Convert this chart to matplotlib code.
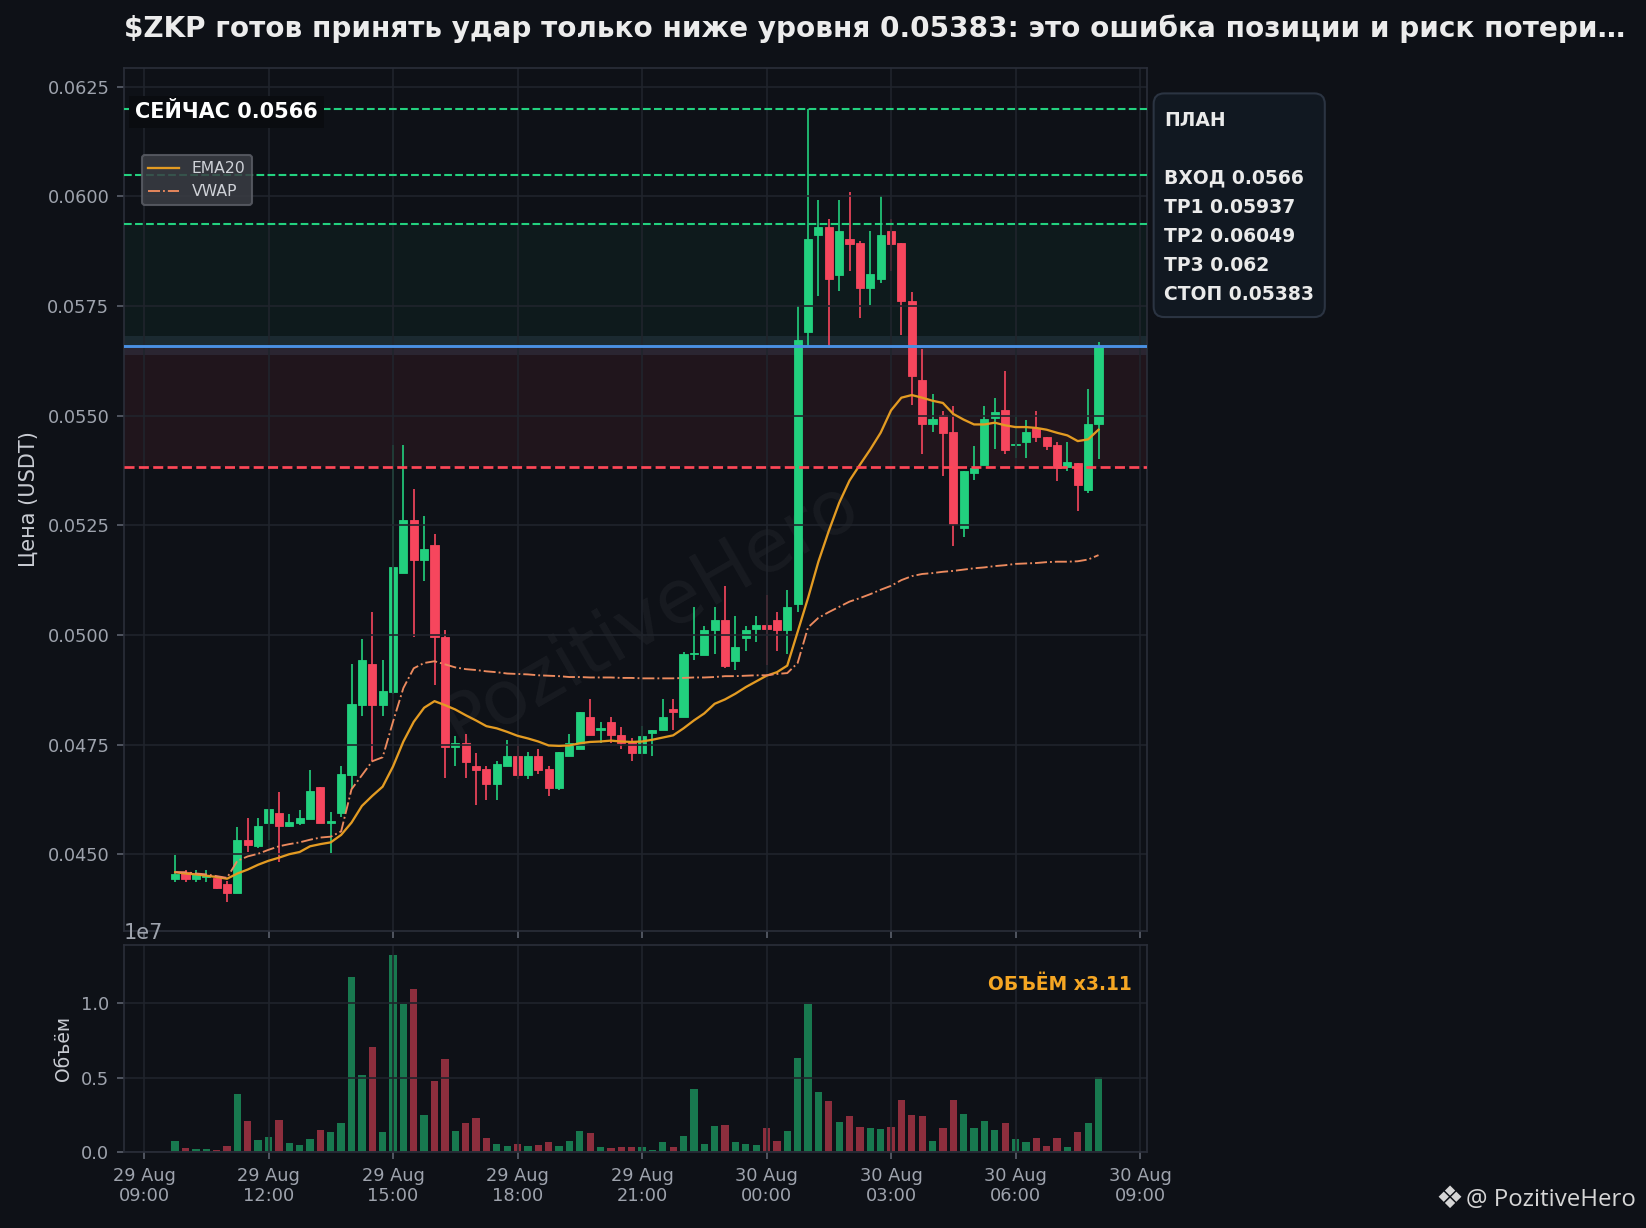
import numpy as np
import pandas as pd
import matplotlib
matplotlib.use("Agg")
import matplotlib.pyplot as plt
import matplotlib.dates as mdates
from matplotlib.patches import FancyBboxPatch
from matplotlib.ticker import FormatStrFormatter, MultipleLocator

# 15m candles, 29 Aug 09:45 -> 30 Aug 08:00
opens = [0.04444, 0.04460, 0.04444, 0.04448, 0.04446, 0.04431, 0.04412, 0.04533, 0.04518, 0.04572,
         0.04593, 0.04564, 0.04572, 0.04581, 0.04654, 0.04572, 0.04593, 0.04680, 0.04840, 0.04933,
         0.04840, 0.04871, 0.05141, 0.05263, 0.05171, 0.05204, 0.04995, 0.04745, 0.04753, 0.04702,
         0.04694, 0.04661, 0.04702, 0.04725, 0.04680, 0.04724, 0.04695, 0.04651, 0.04723, 0.04741,
         0.04812, 0.04784, 0.04802, 0.04771, 0.04759, 0.04730, 0.04776, 0.04783, 0.04830, 0.04812,
         0.04956, 0.04954, 0.05012, 0.05035, 0.04940, 0.04994, 0.05014, 0.05022, 0.05035, 0.05012,
         0.05070, 0.05691, 0.05912, 0.05931, 0.05821, 0.05902, 0.05894, 0.05792, 0.05812, 0.05922,
         0.05893, 0.05761, 0.05582, 0.05482, 0.05501, 0.05463, 0.05243, 0.05370, 0.05387, 0.05495,
         0.05512, 0.05432, 0.05440, 0.05472, 0.05451, 0.05432, 0.05384, 0.05393, 0.05330, 0.05482]
highs = [0.04499, 0.04464, 0.04463, 0.04463, 0.04448, 0.04440, 0.04561, 0.04582, 0.04582, 0.04602,
         0.04642, 0.04591, 0.04601, 0.04692, 0.04654, 0.04597, 0.04702, 0.04933, 0.04990, 0.05052,
         0.04943, 0.05432, 0.05432, 0.05332, 0.05272, 0.05231, 0.05011, 0.04770, 0.04773, 0.04730,
         0.04702, 0.04712, 0.04761, 0.04751, 0.04732, 0.04741, 0.04702, 0.04733, 0.04773, 0.04824,
         0.04853, 0.04802, 0.04812, 0.04789, 0.04764, 0.04792, 0.04783, 0.04853, 0.04853, 0.04962,
         0.05063, 0.05020, 0.05063, 0.05111, 0.05043, 0.05020, 0.05043, 0.05092, 0.05052, 0.05102,
         0.05750, 0.06200, 0.05991, 0.05949, 0.05991, 0.06009, 0.05899, 0.05921, 0.06002, 0.05949,
         0.05893, 0.05783, 0.05652, 0.05549, 0.05511, 0.05521, 0.05373, 0.05431, 0.05521, 0.05540,
         0.05601, 0.05501, 0.05489, 0.05511, 0.05451, 0.05439, 0.05439, 0.05393, 0.05560, 0.05669]
lows = [0.04437, 0.04437, 0.04436, 0.04436, 0.04420, 0.04392, 0.04412, 0.04505, 0.04514, 0.04533,
        0.04482, 0.04562, 0.04567, 0.04581, 0.04572, 0.04503, 0.04584, 0.04649, 0.04815, 0.04712,
        0.04815, 0.04866, 0.05141, 0.04995, 0.05122, 0.04886, 0.04674, 0.04702, 0.04674, 0.04613,
        0.04623, 0.04623, 0.04702, 0.04672, 0.04672, 0.04684, 0.04633, 0.04646, 0.04723, 0.04741,
        0.04771, 0.04753, 0.04753, 0.04741, 0.04712, 0.04730, 0.04725, 0.04783, 0.04783, 0.04812,
        0.04943, 0.04954, 0.04956, 0.04924, 0.04921, 0.04963, 0.04984, 0.04932, 0.04963, 0.04956,
        0.05052, 0.05660, 0.05774, 0.05654, 0.05784, 0.05831, 0.05723, 0.05752, 0.05802, 0.05831,
        0.05684, 0.05524, 0.05412, 0.05463, 0.05362, 0.05202, 0.05223, 0.05354, 0.05387, 0.05425,
        0.05412, 0.05403, 0.05403, 0.05441, 0.05422, 0.05352, 0.05374, 0.05282, 0.05324, 0.05402]
closes = [0.04454, 0.04443, 0.04454, 0.04452, 0.04422, 0.04412, 0.04533, 0.04520, 0.04564, 0.04602,
          0.04564, 0.04574, 0.04582, 0.04645, 0.04572, 0.04576, 0.04683, 0.04843, 0.04943, 0.04840,
          0.04872, 0.05154, 0.05263, 0.05171, 0.05195, 0.04995, 0.04745, 0.04753, 0.04710, 0.04693,
          0.04661, 0.04705, 0.04723, 0.04680, 0.04725, 0.04692, 0.04652, 0.04733, 0.04753, 0.04824,
          0.04771, 0.04787, 0.04771, 0.04753, 0.04730, 0.04770, 0.04783, 0.04812, 0.04824, 0.04956,
          0.04958, 0.05012, 0.05035, 0.04930, 0.04972, 0.05012, 0.05022, 0.05014, 0.05012, 0.05063,
          0.05672, 0.05902, 0.05931, 0.05812, 0.05921, 0.05892, 0.05792, 0.05824, 0.05913, 0.05892,
          0.05761, 0.05591, 0.05482, 0.05492, 0.05460, 0.05252, 0.05373, 0.05380, 0.05492, 0.05508,
          0.05422, 0.05434, 0.05463, 0.05451, 0.05431, 0.05381, 0.05394, 0.05342, 0.05482, 0.05660]
# volume in millions
vol_m = [0.72, 0.25, 0.18, 0.18, 0.11, 0.38, 3.90, 2.08, 0.79, 0.99,
         2.14, 0.59, 0.45, 0.86, 1.47, 1.33, 1.94, 11.76, 5.19, 7.09,
         1.33, 13.27, 9.95, 11.00, 2.48, 4.79, 6.28, 1.40, 1.94, 2.28,
         0.93, 0.52, 0.38, 0.52, 0.38, 0.45, 0.65, 0.38, 0.72, 1.40,
         1.26, 0.32, 0.25, 0.32, 0.32, 0.32, 0.11, 0.65, 0.32, 1.06,
         4.24, 0.52, 1.74, 1.81, 0.65, 0.52, 0.45, 1.60, 0.72, 1.40,
         6.34, 9.93, 4.04, 3.43, 2.01, 2.42, 1.67, 1.60, 1.53, 1.67,
         3.50, 2.48, 2.42, 0.72, 1.60, 3.50, 2.55, 1.60, 2.08, 1.47,
         1.94, 0.86, 0.65, 0.93, 0.38, 0.93, 0.32, 1.33, 1.94, 5.06]
ema20 = [0.04459, 0.04456, 0.04454, 0.04451, 0.04448, 0.04444, 0.04456, 0.04465, 0.04476, 0.04485,
         0.04492, 0.04500, 0.04505, 0.04518, 0.04523, 0.04527, 0.04544, 0.04572, 0.04610, 0.04633,
         0.04654, 0.04700, 0.04757, 0.04802, 0.04834, 0.04849, 0.04840, 0.04830, 0.04817, 0.04805,
         0.04792, 0.04787, 0.04779, 0.04770, 0.04764, 0.04757, 0.04748, 0.04747, 0.04748, 0.04753,
         0.04756, 0.04757, 0.04759, 0.04757, 0.04756, 0.04757, 0.04761, 0.04766, 0.04771, 0.04787,
         0.04805, 0.04821, 0.04843, 0.04853, 0.04866, 0.04881, 0.04894, 0.04907, 0.04915, 0.04930,
         0.05007, 0.05084, 0.05167, 0.05237, 0.05301, 0.05352, 0.05388, 0.05423, 0.05461, 0.05512,
         0.05541, 0.05547, 0.05541, 0.05534, 0.05529, 0.05504, 0.05491, 0.05480, 0.05480, 0.05484,
         0.05478, 0.05474, 0.05474, 0.05472, 0.05468, 0.05461, 0.05455, 0.05442, 0.05446, 0.05468]
vwap = [0.04459, 0.04459, 0.04456, 0.04454, 0.04450, 0.04446, 0.04485, 0.04495, 0.04501, 0.04510,
        0.04518, 0.04523, 0.04527, 0.04533, 0.04538, 0.04540, 0.04552, 0.04648, 0.04680, 0.04712,
        0.04721, 0.04802, 0.04879, 0.04924, 0.04936, 0.04940, 0.04933, 0.04926, 0.04922, 0.04920,
        0.04917, 0.04915, 0.04912, 0.04911, 0.04910, 0.04908, 0.04907, 0.04906, 0.04904, 0.04904,
        0.04903, 0.04903, 0.04903, 0.04902, 0.04902, 0.04901, 0.04901, 0.04901, 0.04901, 0.04902,
        0.04903, 0.04903, 0.04904, 0.04906, 0.04906, 0.04907, 0.04908, 0.04908, 0.04911, 0.04913,
        0.04936, 0.05017, 0.05039, 0.05052, 0.05064, 0.05076, 0.05084, 0.05093, 0.05103, 0.05112,
        0.05125, 0.05134, 0.05139, 0.05141, 0.05144, 0.05146, 0.05149, 0.05152, 0.05154, 0.05157,
        0.05159, 0.05162, 0.05163, 0.05164, 0.05166, 0.05167, 0.05167, 0.05168, 0.05172, 0.05182]

entry = 0.0566
tp1, tp2, tp3 = 0.05937, 0.06049, 0.062
stop = 0.05383
title = "$ZKP готов принять удар только ниже уровня 0.05383: это ошибка позиции и риск потери…"
plan_lines = ["ПЛАН", "", "ВХОД 0.0566", "TP1 0.05937", "TP2 0.06049", "TP3 0.062", "СТОП 0.05383"]

BG = '#0e1117'
UP = '#22d07e'
DN = '#f6465d'
GRID = '#20242c'
SPINE = '#2a2e39'
TXT = '#9ea3ad'

o = np.array(opens); h = np.array(highs); l = np.array(lows); c = np.array(closes)
vol = np.array(vol_m) * 1e6
times = pd.date_range('2025-08-29 09:45', periods=len(closes), freq='15min')
t = mdates.date2num(times.to_pydatetime())
up = c >= o
col = np.where(up, UP, DN)

fig = plt.figure(figsize=(1646 / 150, 1228 / 150), dpi=150, facecolor=BG)
ax = fig.add_axes([0.0753, 0.2419, 0.6215, 0.7028], facecolor=BG)
axv = fig.add_axes([0.0753, 0.0619, 0.6215, 0.1686], facecolor=BG, sharex=ax)

# zones
ax.axhspan(entry, tp1, color='#0ecb81', alpha=0.05, lw=0, zorder=0)
ax.axhspan(stop, entry, color=DN, alpha=0.08, lw=0, zorder=0)
ax.axhspan(entry * 0.996, entry * 1.004, color='#5a7394', alpha=0.18, lw=0, zorder=0)

# candles
w = 15 / 1440 * 0.78
ax.vlines(t, l, h, colors=col, lw=0.8, zorder=1)
body = np.maximum(np.abs(c - o), 0.00003)
ax.bar(t, body, bottom=np.minimum(o, c), width=w, color=col, edgecolor=col, lw=0.4, zorder=1)

ax.plot(t, ema20, color='#e39b22', lw=1.1, label='EMA20', zorder=3)
ax.plot(t, vwap, color='#ec8a5e', lw=0.9, ls='-.', label='VWAP', zorder=3)

for lvl in (tp1, tp2, tp3):
    ax.axhline(lvl, color='#23d17f', ls='--', lw=1.0, zorder=3)
ax.axhline(entry, color='#4a90e2', lw=1.4, zorder=3)
ax.axhline(stop, color='#ff4757', ls='--', lw=1.3, zorder=3)

ax.set_xlim(mdates.date2num(pd.Timestamp('2025-08-29 08:31')),
            mdates.date2num(pd.Timestamp('2025-08-30 09:10')))
ax.set_ylim(0.04325, 0.06293)
ax.yaxis.set_major_locator(MultipleLocator(0.0025))
ax.yaxis.set_major_formatter(FormatStrFormatter('%.4f'))
ax.xaxis.set_major_locator(mdates.HourLocator(byhour=range(0, 24, 3)))
ax.xaxis.set_major_formatter(mdates.DateFormatter('%d %b\n%H:%M'))
ax.set_ylabel('Цена (USDT)', color='#c9ccd3', fontsize=10)

ax.text(0.0112, 0.949, 'СЕЙЧАС 0.0566', transform=ax.transAxes, fontsize=10,
        weight='bold', color='white', va='center', ha='left', zorder=6,
        bbox=dict(facecolor='#0a0c10', edgecolor='none', pad=3))
leg = ax.legend(loc='upper left', bbox_to_anchor=(0.0176, 0.899), borderaxespad=0,
                fontsize=7.5, facecolor='#3a3d44', edgecolor='#5b5e66',
                labelcolor='#cfd2d8', framealpha=0.85)
leg.set_zorder(6)
ax.text(0.515, 0.367, 'PozitiveHero', transform=ax.transAxes, fontsize=36,
        color='white', alpha=0.045, rotation=30, ha='center', va='center', zorder=0)

# volume
axv.bar(t, vol, width=15 / 1440 * 0.7, color=col, alpha=0.55)
axv.set_ylim(0, vol.max() * 1.05)
axv.yaxis.set_major_locator(MultipleLocator(5e6))
axv.set_ylabel('Объём', color='#c9ccd3', fontsize=9)
axv.text(0.985, 0.81, 'ОБЪЁМ x3.11', transform=axv.transAxes, ha='right', va='center',
         fontsize=9, weight='bold', color='#f5a623')

for a in (ax, axv):
    a.grid(True, color=GRID, lw=0.8)
    a.tick_params(colors='#5c616d', labelcolor=TXT, labelsize=8.5)
    for s in a.spines.values():
        s.set_color(SPINE)
ax.tick_params(labelbottom=False)
axv.yaxis.get_offset_text().set_color(TXT)
axv.yaxis.get_offset_text().set_fontsize(10)

fig.text(0.0753, 0.977, title, ha='left', va='center', fontsize=13.4, weight='bold', color='#ececec')

# plan box (inches)
fig.patches.append(FancyBboxPatch((7.691, 6.073), 1.141, 1.491,
                                  boxstyle='round,pad=0,rounding_size=0.07',
                                  transform=fig.dpi_scale_trans, facecolor='#111821',
                                  edgecolor='#2b3442', lw=1, zorder=5))
fig.text(0.7072, 0.9099, "\n".join(plan_lines), ha='left', va='top', fontsize=9,
         weight='bold', color='#eaeaea', linespacing=1.67, zorder=6)
fig.text(0.889, 0.023, '❖', ha='right', va='center', fontsize=15,
         color='#d6d6d6', family='DejaVu Sans')
fig.text(0.994, 0.023, '@ PozitiveHero', ha='right', va='center', fontsize=11.5,
         color='#d6d6d6', family=['Open Sans', 'DejaVu Sans'])

fig.savefig('out.png', dpi=150, facecolor=BG)
